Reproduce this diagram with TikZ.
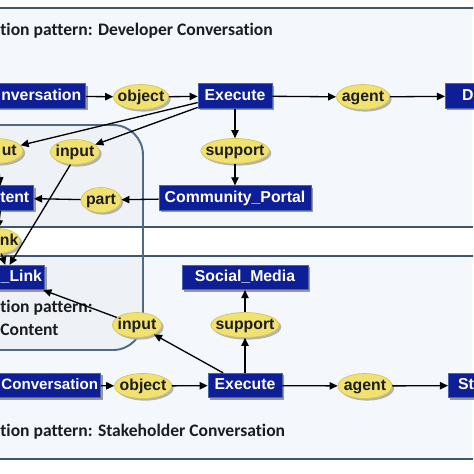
\documentclass[tikz,border=0pt]{standalone}
\usepackage{fontspec}
\newfontfamily\conceptfont{Liberation Sans}
\newfontfamily\patternfont[Ligatures=NoCommon]{Carlito}
\usepackage{xcolor}
\definecolor{panel-bg}{RGB}{244,247,251}
\definecolor{group-bg}{RGB}{238,242,247}
\definecolor{panel-line}{RGB}{62,86,108}
\definecolor{group-line}{RGB}{78,106,134}
\definecolor{concept-blue}{RGB}{14,30,150}
\definecolor{concept-edge}{RGB}{72,98,180}
\definecolor{relation-yellow}{RGB}{241,226,112}
\definecolor{relation-edge}{RGB}{214,196,92}
\definecolor{gray-900}{RGB}{28,28,30}
\usepackage{tikz}
\usetikzlibrary{shapes.geometric,shadows,arrows.meta}

\begin{document}
\begin{tikzpicture}[
    x=0.02cm, y=-0.02cm,
    concept/.style={
        draw=concept-edge, line width=0.4pt, fill=concept-blue, text=white,
        font=\conceptfont\bfseries\fontsize{9}{10}\selectfont,
        minimum height=0.49cm, inner xsep=2.5pt, inner ysep=0pt,
        text height=6.6pt, text depth=1.9pt,
        drop shadow={shadow xshift=1.2pt, shadow yshift=-1.2pt, fill=black!40, opacity=1}
    },
    relation/.style={
        ellipse, draw=relation-edge, line width=0.4pt, fill=relation-yellow, text=gray-900,
        font=\conceptfont\bfseries\fontsize{9}{10}\selectfont,
        minimum height=0.5cm, inner xsep=-3pt, inner ysep=0pt,
        text height=6.6pt, text depth=1.9pt,
        drop shadow={shadow xshift=1.2pt, shadow yshift=-1.2pt, fill=black!30, opacity=1}
    },
    pattern/.style={
        font=\patternfont\bfseries\fontsize{10}{12}\selectfont,
        text=gray-900, inner sep=0pt, anchor=west
    },
    connector/.style={-{Triangle[length=4.6pt,width=4.2pt]}, line width=0.75pt, black}
]

\useasboundingbox (0,0) rectangle (474,474);
\clip (0,0) rectangle (474,474);
\fill[white] (0,0) rectangle (474,474);

% Pattern panels
\fill[panel-bg] (-5,8) rectangle (472,227);
\fill[panel-bg] (-5,256) rectangle (472,459);

% Content group
\fill[group-bg, rounded corners=0.6cm] (-40,125) rectangle (143,350);
\fill[white] (-5,228) rectangle (472,255);
\foreach \y in {8,227,256,459}
    \draw[panel-line, line width=1.3pt] (-5,\y) -- (473,\y);
\draw[group-line, line width=1.1pt, rounded corners=0.6cm] (-40,125) rectangle (143,350);

% Pattern titles
\node[pattern] (devtitle) at (0,31) {tion pattern: Developer Conversation};
\node[pattern] (grouptitle) at (0,308) {tion pattern:};
\node[pattern] (groupname) at (0,330) {Content};
\node[pattern] (stakeholdertitle) at (0,432) {tion pattern: Stakeholder Conversation};

% Developer conversation
\node[concept, anchor=east, text width=2cm, align=right] (devconv) at (86,96) {nversation};
\node[relation, minimum width=1.1cm] (devobject) at (141,97) {object};
\node[concept, minimum width=1.48cm] (devexec) at (235,96) {Execute};
\node[relation, minimum width=1.06cm] (devagent) at (363,97) {agent};
\node[concept, anchor=west, text width=1.5cm, align=left] (developer) at (445,96) {\hspace*{7pt}D};
\node[relation, minimum width=1.36cm] (devsupport) at (235,151) {support};
\node[concept, minimum width=3.04cm] (portal) at (235,198) {Community\_Portal};

% Content
\node[relation, minimum width=1.04cm] (output) at (-3,151) {\hspace*{14pt}ut};
\node[relation, minimum width=0.98cm] (devinput) at (75,152) {input};
\node[relation, minimum width=0.8cm] (part) at (101,200) {part};
\node[concept, anchor=east, text width=1.1cm, align=right] (content) at (34,198) {tent};
\node[relation, minimum width=0.92cm] (haslink) at (-3,241) {\hspace*{13.9pt}nk};
\node[concept, anchor=east, text width=1.3cm, align=right, inner xsep=1.5pt] (contentlink) at (45,277.5) {\_Link};

% Stakeholder conversation
\node[concept, minimum width=2.52cm] (media) at (245,277.5) {Social\_Media};
\node[relation, minimum width=1.36cm] (stsupport) at (245,325) {support};
\node[relation, minimum width=0.98cm] (stinput) at (137,325) {input};
\node[concept, anchor=east, text width=2cm, align=right, inner xsep=1.5pt,
    font=\conceptfont\bfseries\fontsize{8.6}{10}\selectfont] (stconv) at (101,385.5) {Conversation};
\node[relation, minimum width=1.14cm] (stobject) at (143,386) {object};
\node[concept, minimum width=1.48cm] (stexec) at (245,385.5) {Execute};
\node[relation, minimum width=1.08cm] (stagent) at (365,386) {agent};
\node[concept, anchor=west, text width=1.5cm, align=left] (stakeholder) at (448,385.5) {\hspace*{3pt}St};

% Connectors
\draw[connector] (devconv) -- (devobject);
\draw[connector] (devobject) -- (devexec);
\draw[connector] (devexec) -- (devagent);
\draw[connector] (devagent) -- (developer);
\draw[connector] (devexec) -- (devsupport);
\draw[connector] (devsupport) -- (portal);
\draw[connector] (portal) -- (part);
\draw[connector] (part) -- (content);
\draw[connector] (devexec.190) -- (output);
\draw[connector] (devexec.197) -- (devinput);
\draw[connector] (output) -- (content);
\draw[connector] (content) -- (haslink);
\draw[connector] (haslink) -- (contentlink);
\draw[connector] (devinput.250) -- (contentlink.north);

\draw[connector] (stconv) -- (stobject);
\draw[connector] (stobject) -- (stexec);
\draw[connector] (stexec) -- (stagent);
\draw[connector] (stagent) -- (stakeholder);
\draw[connector] (stexec) -- (stsupport);
\draw[connector] (stsupport) -- (media);
\draw[connector] (stexec.150) -- (stinput);
\draw[connector] (stinput) -- (contentlink);

\end{tikzpicture}
\end{document}
